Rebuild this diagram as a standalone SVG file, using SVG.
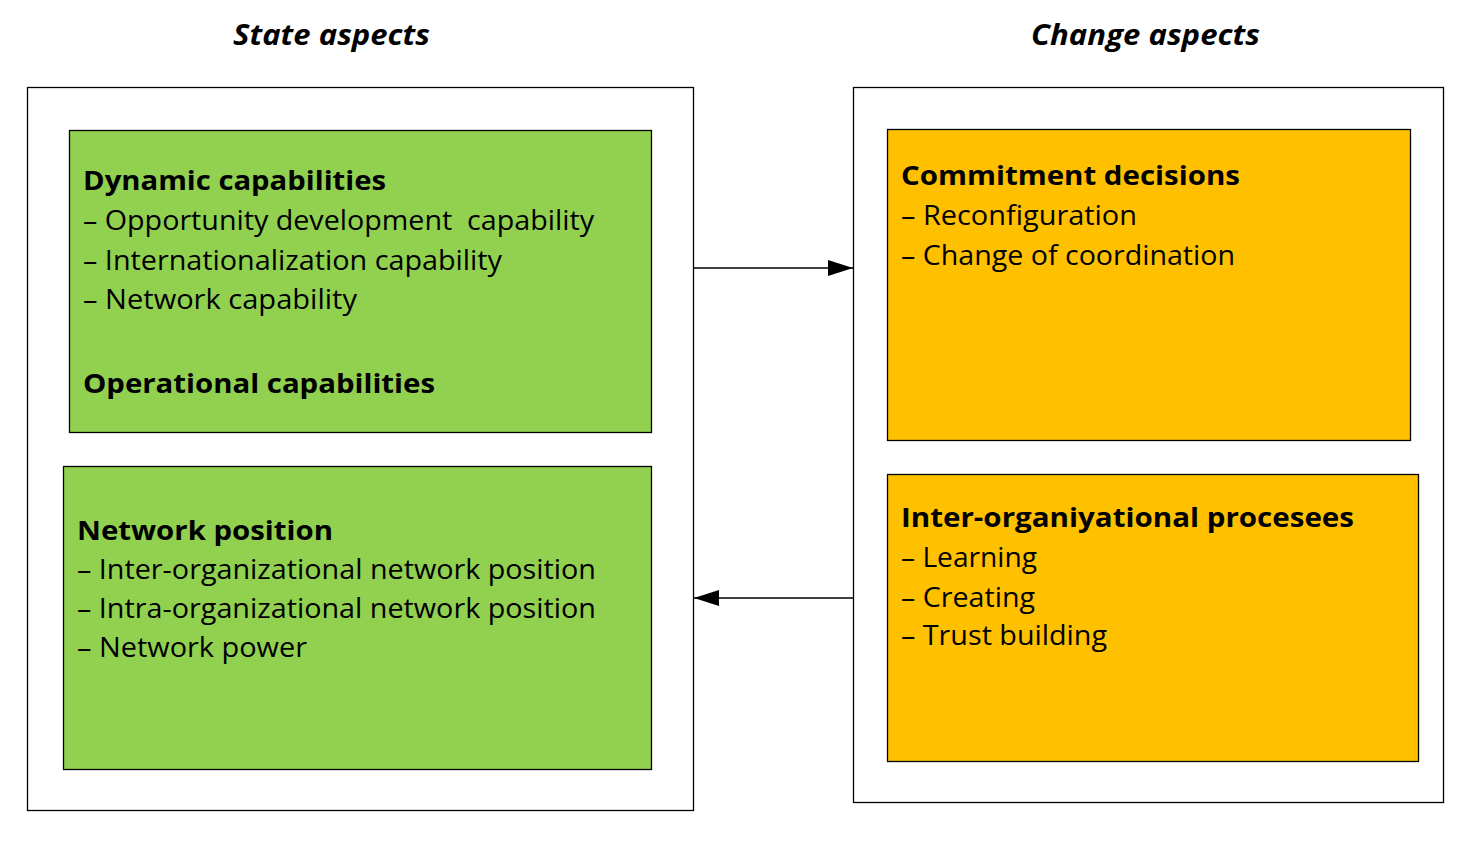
<svg xmlns="http://www.w3.org/2000/svg" width="1467" height="846" viewBox="0 0 1467 846">
<style>
.frame{fill:#fff;stroke:#000;stroke-width:1.3}
.green{fill:#92D050;stroke:#000;stroke-width:1.3}
.orange{fill:#FFC000;stroke:#000;stroke-width:1.3}
text{font-family:"Open Sans","Liberation Sans",sans-serif;font-size:27px;fill:#000}
.h{font-weight:bold}
.t{font-weight:bold;font-style:italic;font-size:28px}
.conn{stroke:#000;stroke-width:1.3;fill:none}
</style>
<defs>
<marker id="ah" markerUnits="userSpaceOnUse" markerWidth="26" markerHeight="18" refX="25" refY="8" orient="auto">
<path d="M0,0 L25,8 L0,16 Z" fill="#000"/>
</marker>
</defs>
<rect width="1467" height="846" fill="#fff"/>
<text class="t" x="233" y="45" textLength="197" lengthAdjust="spacingAndGlyphs">State aspects</text>
<text class="t" x="1031" y="45" textLength="229" lengthAdjust="spacingAndGlyphs">Change aspects</text>
<g id="state-frame"><rect class="frame" x="27.5" y="87.5" width="666" height="723"/></g>
<g id="change-frame"><rect class="frame" x="853.5" y="87.5" width="590" height="715"/></g>
<g id="capabilities">
<rect class="green" x="69.5" y="130.5" width="582" height="302"/>
<text class="h" x="83" y="190" textLength="303" lengthAdjust="spacingAndGlyphs">Dynamic capabilities</text>
<text x="83" y="230" textLength="511" lengthAdjust="spacingAndGlyphs" xml:space="preserve">– Opportunity development  capability</text>
<text x="83" y="270" textLength="419" lengthAdjust="spacingAndGlyphs">– Internationalization capability</text>
<text x="83" y="309" textLength="274" lengthAdjust="spacingAndGlyphs">– Network capability</text>
<text class="h" x="83" y="393" textLength="352" lengthAdjust="spacingAndGlyphs">Operational capabilities</text>
</g>
<g id="network-position">
<rect class="green" x="63.5" y="466.5" width="588" height="303"/>
<text class="h" x="77" y="540" textLength="256" lengthAdjust="spacingAndGlyphs">Network position</text>
<text x="77" y="579" textLength="519" lengthAdjust="spacingAndGlyphs">– Inter-organizational network position</text>
<text x="77" y="618" textLength="519" lengthAdjust="spacingAndGlyphs">– Intra-organizational network position</text>
<text x="77" y="657" textLength="230" lengthAdjust="spacingAndGlyphs">– Network power</text>
</g>
<g id="commitment-decisions">
<rect class="orange" x="887.5" y="129.5" width="523" height="311"/>
<text class="h" x="901" y="185" textLength="339" lengthAdjust="spacingAndGlyphs">Commitment decisions</text>
<text x="901" y="225" textLength="236" lengthAdjust="spacingAndGlyphs">– Reconfiguration</text>
<text x="901" y="265" textLength="334" lengthAdjust="spacingAndGlyphs">– Change of coordination</text>
</g>
<g id="inter-org-processes">
<rect class="orange" x="887.5" y="474.5" width="531" height="287"/>
<text class="h" x="901" y="527" textLength="453" lengthAdjust="spacingAndGlyphs">Inter-organiyational procesees</text>
<text x="901" y="567" textLength="136" lengthAdjust="spacingAndGlyphs">– Learning</text>
<text x="901" y="607" textLength="134" lengthAdjust="spacingAndGlyphs">– Creating</text>
<text x="901" y="645" textLength="206" lengthAdjust="spacingAndGlyphs">– Trust building</text>
</g>
<g id="connectors">
<line class="conn" x1="694" y1="268" x2="853" y2="268" marker-end="url(#ah)"/>
<line class="conn" x1="853" y1="598" x2="694" y2="598" marker-end="url(#ah)"/>
</g>
</svg>
